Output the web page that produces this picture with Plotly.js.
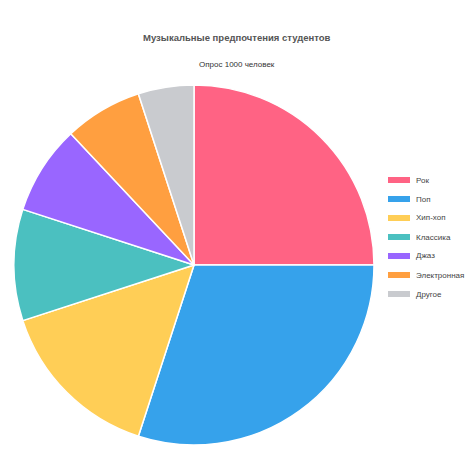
<!DOCTYPE html>
<html>
<head>
<meta charset="utf-8">
<script src="https://cdn.plot.ly/plotly-3.0.1.min.js"></script>
<style>
  html, body { margin: 0; padding: 0; background: #fff; }
  #chart { width: 474px; height: 474px; }
</style>
</head>
<body>
<div id="chart"></div>
<script>
// survey data (percent of 1000 students)
const genres = ['Рок', 'Поп', 'Хип-хоп', 'Классика', 'Джаз', 'Электронная', 'Другое'];
const shares = [25, 30, 15, 10, 8, 7, 5];
const colors = ['#FF6384', '#36A2EB', '#FFCE56', '#4BC0C0', '#9966FF', '#FF9F40', '#C9CBCF'];

const titleText = 'Музыкальные предпочтения студентов';
const subtitleText = 'Опрос 1000 человек';

const W = 474, H = 474;
const px = v => v / W;
const py = v => 1 - v / H;

const trace = {
  type: 'pie',
  labels: genres,
  values: shares,
  sort: false,
  direction: 'clockwise',
  rotation: 0,
  textinfo: 'none',
  hoverinfo: 'label+value',
  marker: { colors: colors, line: { color: '#fff', width: 1.5 } },
  domain: { x: [px(13), px(375)], y: [py(445), py(85)] },
  showlegend: false
};

// legend drawn by hand to get the wide, flat colour boxes
const shapes = [];
const annotations = [
  { text: '<b>' + titleText + '</b>', x: 0.5, y: py(30), xref: 'paper', yref: 'paper',
    showarrow: false, font: { family: 'Liberation Sans, Arial', size: 9.5, color: '#555' } },
  { text: subtitleText, x: 0.5, y: py(58), xref: 'paper', yref: 'paper',
    showarrow: false, font: { family: 'Liberation Sans, Arial', size: 8, color: '#333' } }
];
genres.forEach((g, i) => {
  const yc = 180 + i * 19;
  shapes.push({
    type: 'rect', xref: 'paper', yref: 'paper',
    x0: px(388), x1: px(410), y0: py(yc + 3), y1: py(yc - 3),
    fillcolor: colors[i], line: { width: 0 }
  });
  annotations.push({
    text: g, x: px(414), y: py(yc), xref: 'paper', yref: 'paper',
    xanchor: 'left', yanchor: 'middle', showarrow: false,
    font: { family: 'Liberation Sans, Arial', size: 8, color: '#444' }
  });
});

const layout = {
  width: W, height: H,
  margin: { l: 0, r: 0, t: 0, b: 0 },
  paper_bgcolor: '#fff',
  shapes: shapes,
  annotations: annotations
};

Plotly.newPlot('chart', [trace], layout, { displayModeBar: false, staticPlot: true });
</script>
</body>
</html>
